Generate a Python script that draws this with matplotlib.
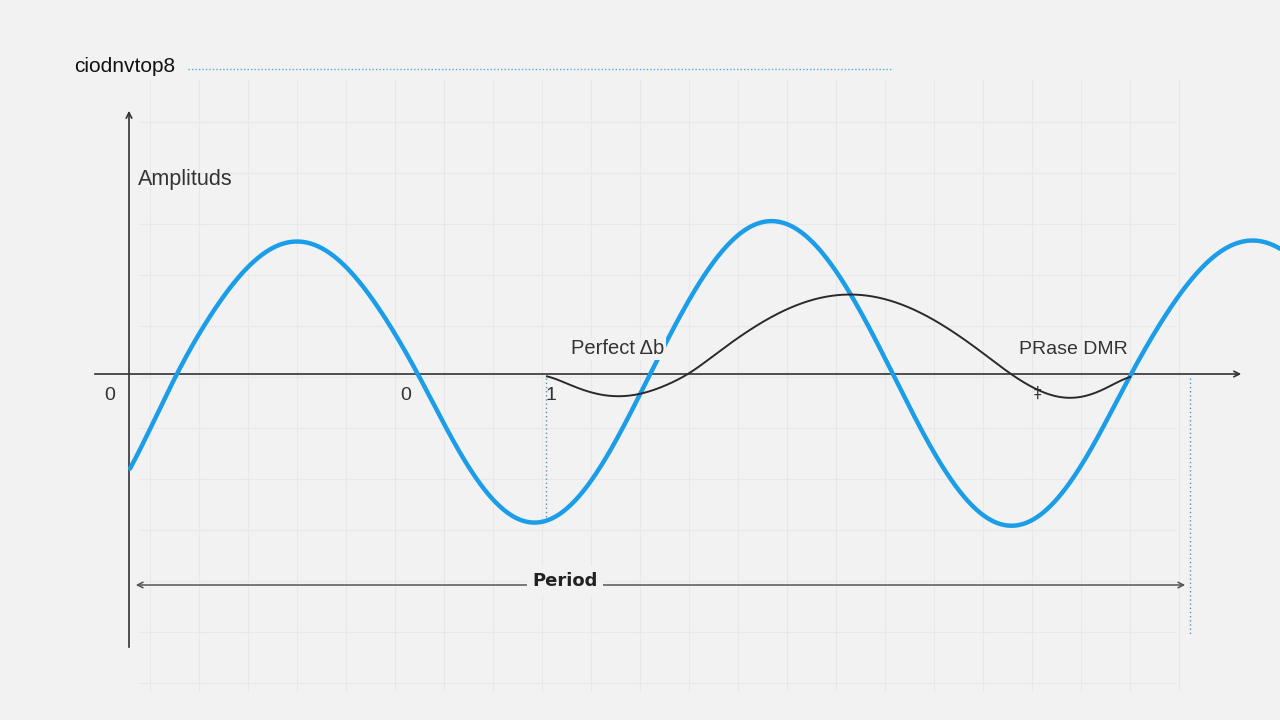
import matplotlib.pyplot as plt
import numpy as np

# Diagram units follow the picture (x to the right, y downwards), baseline at y=374
baseline = 374

# Blue wave: zero crossings and the height of each half-wave between them
blue_crossings = [-65, 175, 419, 650, 893, 1130, 1375]
blue_heights = [-175, 136, -153, 157, -156, 137]
blue_start = 130
blue_end = 1280

# Thin black wave (phase shifted, smaller)
black_crossings = [547, 690, 1010, 1130]
black_heights = [-23, 80, -25]

# Labels
top_label = 'ciodnvtop8'
amp_label = 'Amplituds'
period_label = 'Period'
perfect_label = 'Perfect Δb'
phase_label = 'PRase DMR'
zero_labels = ['0', '0', '1']
zero_label_x = [110, 406, 551]

bg = '#f2f2f2'
blue = '#1b9de8'
dark = '#333333'


def wave(crossings, heights, sigma):
    # half-sine lobes between crossings, lightly smoothed so the joins are round
    x = np.arange(crossings[0], crossings[-1] + 1, 1.0)
    y = np.zeros_like(x)
    for a, b, h in zip(crossings[:-1], crossings[1:], heights):
        m = (x >= a) & (x <= b)
        y[m] = h * np.sin(np.pi * (x[m] - a) / (b - a))
    k = np.arange(-3 * sigma, 3 * sigma + 1)
    g = np.exp(-0.5 * (k / sigma) ** 2)
    g /= g.sum()
    ys = np.convolve(np.pad(y, len(k) // 2, mode='constant'), g, mode='valid')
    return x, baseline - ys


fig = plt.figure(figsize=(12.8, 7.2), dpi=100, facecolor=bg)
ax = fig.add_axes([0, 0, 1, 1])
ax.set_facecolor(bg)
ax.set_xlim(0, 1280)
ax.set_ylim(720, 0)
ax.axis('off')

# faint grid
for gx in np.arange(150, 1200, 49):
    ax.plot([gx, gx], [80, 690], color='#e8e8e8', lw=0.8, zorder=0)
for gy in np.arange(122, 690, 51):
    ax.plot([140, 1175], [gy, gy], color='#e8e8e8', lw=0.8, zorder=0)

# top dotted line and label
ax.plot([188, 893], [69, 69], color='#5aa9d6', lw=1, ls=(0, (1, 1.5)))
ax.text(74, 67, top_label, fontsize=15, family='Liberation Sans',
        color='#111111', va='center', ha='left')

# axes arrows
ax.annotate('', xy=(129, 108), xytext=(129, 650),
            arrowprops=dict(arrowstyle='->', color=dark, lw=1.2))
ax.annotate('', xy=(1244, baseline), xytext=(92, baseline),
            arrowprops=dict(arrowstyle='->', color=dark, lw=1.2))

ax.text(138, 179, amp_label, fontsize=15.5, family='Liberation Sans',
        color='#333333', va='center', ha='left')

# curves
xb, yb = wave(blue_crossings, blue_heights, 18)
keep = (xb >= blue_start) & (xb <= blue_end)
ax.plot(xb[keep], yb[keep], color=blue, lw=3.2, solid_capstyle='round', zorder=3)
xk, yk = wave(black_crossings, black_heights, 12)
ax.plot(xk, yk, color='#2a2a2a', lw=1.4, zorder=4)

# dotted guides
ax.plot([546, 546], [378, 520], color='#5a8fb0', lw=1, ls=(0, (1, 2)))
ax.plot([1190, 1190], [378, 636], color='#5a8fb0', lw=1, ls=(0, (1, 2)))

# zero labels
for lx, lab in zip(zero_label_x, zero_labels):
    ax.text(lx, 395, lab, fontsize=14, family='Liberation Sans',
            color='#333333', ha='center', va='center')
ax.text(1037, 393, '‡', fontsize=11, color='#333333', ha='center', va='center')

# text labels on the baseline
ax.text(571, 349, perfect_label, fontsize=14.5, family='Liberation Sans',
        color='#333333', va='center', ha='left', zorder=5,
        bbox=dict(facecolor=bg, edgecolor='none', pad=1))
ax.text(1019, 349, phase_label, fontsize=14, family='Liberation Sans',
        color='#333333', va='center', ha='left', zorder=5)

# period arrow
ax.annotate('', xy=(133, 585), xytext=(1188, 585),
            arrowprops=dict(arrowstyle='<->', color='#555555', lw=1.1))
ax.text(565, 581, period_label, fontsize=13, fontweight='bold', color='#222222',
        ha='center', va='center', zorder=5,
        bbox=dict(facecolor=bg, edgecolor='none', pad=4))

fig.savefig('out.png', dpi=100, facecolor=bg)
